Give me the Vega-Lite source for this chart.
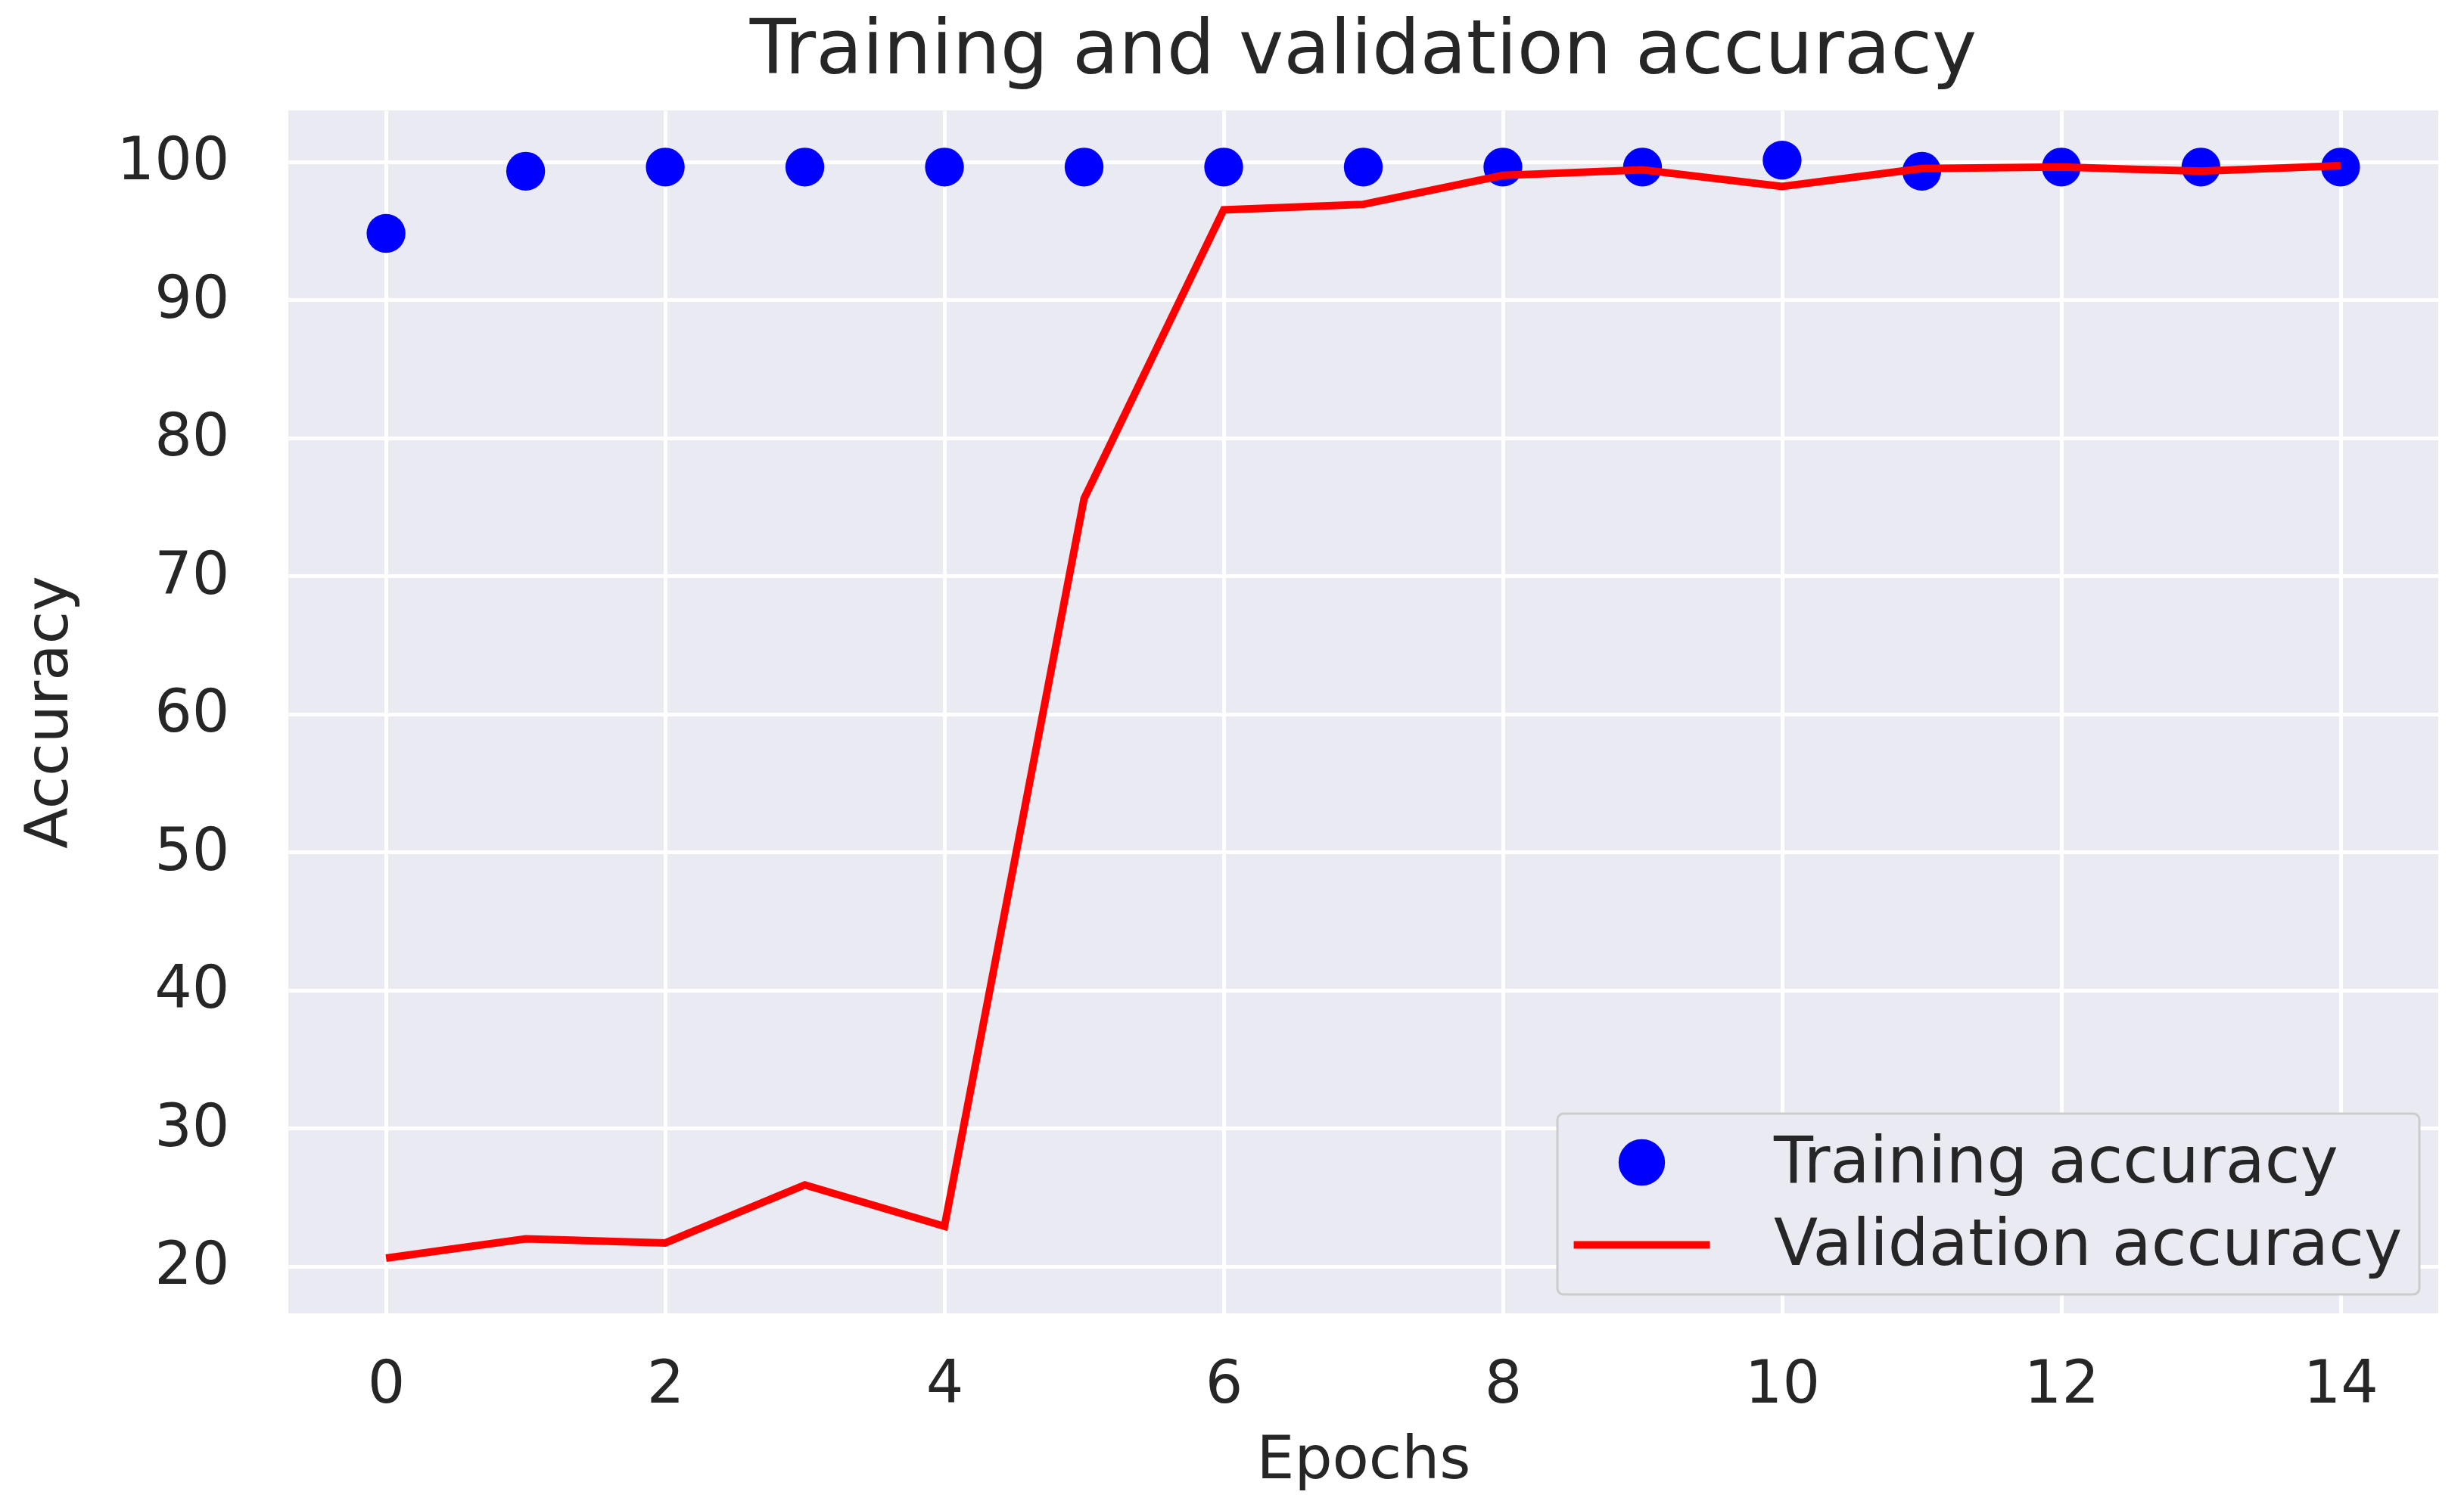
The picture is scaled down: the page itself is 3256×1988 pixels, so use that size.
{
  "$schema": "https://vega.github.io/schema/vega-lite/v6.json",
  "description": "Training and validation accuracy per epoch.",
  "width": 2841,
  "height": 1590,
  "autosize": {"type": "none"},
  "padding": {"left": 381, "top": 146, "right": 34, "bottom": 252},
  "background": "white",
  "title": {
    "text": "Training and validation accuracy",
    "font": "DejaVu Sans",
    "fontSize": 100,
    "fontWeight": "normal",
    "color": "#262626",
    "anchor": "middle",
    "offset": 28
  },
  "data": {
    "values": [
      {"epoch": 0, "series": "Training accuracy", "accuracy": 94.8},
      {"epoch": 1, "series": "Training accuracy", "accuracy": 99.3},
      {"epoch": 2, "series": "Training accuracy", "accuracy": 99.6},
      {"epoch": 3, "series": "Training accuracy", "accuracy": 99.6},
      {"epoch": 4, "series": "Training accuracy", "accuracy": 99.6},
      {"epoch": 5, "series": "Training accuracy", "accuracy": 99.6},
      {"epoch": 6, "series": "Training accuracy", "accuracy": 99.6},
      {"epoch": 7, "series": "Training accuracy", "accuracy": 99.6},
      {"epoch": 8, "series": "Training accuracy", "accuracy": 99.6},
      {"epoch": 9, "series": "Training accuracy", "accuracy": 99.6},
      {"epoch": 10, "series": "Training accuracy", "accuracy": 100.1},
      {"epoch": 11, "series": "Training accuracy", "accuracy": 99.3},
      {"epoch": 12, "series": "Training accuracy", "accuracy": 99.6},
      {"epoch": 13, "series": "Training accuracy", "accuracy": 99.6},
      {"epoch": 14, "series": "Training accuracy", "accuracy": 99.6},
      {"epoch": 0, "series": "Validation accuracy", "accuracy": 20.6},
      {"epoch": 1, "series": "Validation accuracy", "accuracy": 22.0},
      {"epoch": 2, "series": "Validation accuracy", "accuracy": 21.7},
      {"epoch": 3, "series": "Validation accuracy", "accuracy": 25.9},
      {"epoch": 4, "series": "Validation accuracy", "accuracy": 22.9},
      {"epoch": 5, "series": "Validation accuracy", "accuracy": 75.6},
      {"epoch": 6, "series": "Validation accuracy", "accuracy": 96.5},
      {"epoch": 7, "series": "Validation accuracy", "accuracy": 96.9},
      {"epoch": 8, "series": "Validation accuracy", "accuracy": 99.0},
      {"epoch": 9, "series": "Validation accuracy", "accuracy": 99.4},
      {"epoch": 10, "series": "Validation accuracy", "accuracy": 98.2},
      {"epoch": 11, "series": "Validation accuracy", "accuracy": 99.5},
      {"epoch": 12, "series": "Validation accuracy", "accuracy": 99.6},
      {"epoch": 13, "series": "Validation accuracy", "accuracy": 99.3},
      {"epoch": 14, "series": "Validation accuracy", "accuracy": 99.7}
    ]
  },
  "encoding": {
    "x": {
      "field": "epoch",
      "type": "quantitative",
      "title": "Epochs",
      "scale": {"domain": [-0.7, 14.7], "nice": false, "zero": false},
      "axis": {"values": [0, 2, 4, 6, 8, 10, 12, 14], "labelPadding": 55, "titlePadding": 22}
    },
    "y": {
      "field": "accuracy",
      "type": "quantitative",
      "title": "Accuracy",
      "scale": {"domain": [16.6, 103.7], "nice": false, "zero": false},
      "axis": {"values": [20, 30, 40, 50, 60, 70, 80, 90, 100], "labelPadding": 78, "titlePadding": 76}
    },
    "color": {
      "field": "series",
      "type": "nominal",
      "scale": {
        "domain": ["Training accuracy", "Validation accuracy"],
        "range": ["#0000ff", "#ff0000"]
      },
      "legend": {
        "title": null,
        "orient": "bottom-right",
        "offset": 25,
        "padding": 22,
        "rowPadding": 20,
        "symbolSize": 2640,
        "symbolOffset": 47,
        "labelOffset": 132,
        "labelLimit": 0,
        "labelFont": "DejaVu Sans",
        "labelFontSize": 85,
        "labelColor": "#262626",
        "fillColor": "#EAEAF2",
        "strokeColor": "#CCCCCC",
        "cornerRadius": 8,
        "encode": {
          "legend": {"update": {"strokeWidth": {"value": 3}}},
          "symbols": {
            "update": {
              "shape": {"signal": "datum.value === 'Training accuracy' ? 'circle' : 'M-3.5,0H3.5'"},
              "fill": {"signal": "datum.value === 'Training accuracy' ? '#0000ff' : 'transparent'"},
              "stroke": {"signal": "datum.value === 'Training accuracy' ? 'transparent' : '#ff0000'"},
              "strokeWidth": {"value": 10},
              "opacity": {"value": 1}
            }
          }
        }
      }
    }
  },
  "layer": [
    {
      "transform": [{"filter": "datum.series === 'Training accuracy'"}],
      "mark": {"type": "point", "filled": true, "shape": "circle", "size": 2640, "opacity": 1}
    },
    {
      "transform": [{"filter": "datum.series === 'Validation accuracy'"}],
      "mark": {"type": "line", "strokeWidth": 10}
    }
  ],
  "config": {
    "view": {"fill": "#EAEAF2", "stroke": null},
    "axis": {
      "domain": false,
      "ticks": false,
      "grid": true,
      "gridColor": "#FFFFFF",
      "gridWidth": 5,
      "labelFont": "DejaVu Sans",
      "labelFontSize": 78,
      "labelColor": "#262626",
      "titleFont": "DejaVu Sans",
      "titleFontSize": 79,
      "titleFontWeight": "normal",
      "titleColor": "#262626"
    }
  }
}
